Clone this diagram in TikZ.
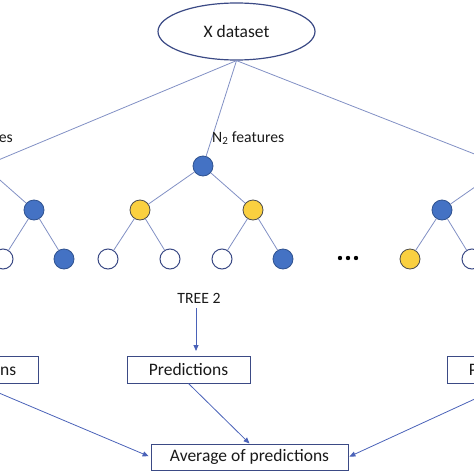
\documentclass[tikz,border=0pt]{standalone}
\usepackage{fontspec}
\setmainfont{Carlito}
\usetikzlibrary{shapes.geometric,arrows.meta}
\definecolor{nblue}{HTML}{4472C4}
\definecolor{nbluedk}{HTML}{2F528F}
\definecolor{nyellow}{HTML}{FAD040}
\definecolor{edgec}{HTML}{8190C4}
\definecolor{navy}{HTML}{3B4A85}
\definecolor{arrowc}{HTML}{4A62B8}
\definecolor{txt}{HTML}{1A1A1A}
\begin{document}
\begin{tikzpicture}[x=1pt,y=-1pt,
  bn/.style={circle,minimum size=20pt,inner sep=0,fill=nblue,draw=nbluedk,line width=0.8pt},
  yn/.style={circle,minimum size=20pt,inner sep=0,fill=nyellow,draw=black!70,line width=0.8pt},
  wn/.style={circle,minimum size=20pt,inner sep=0,fill=white,draw=navy,line width=1pt},
  edge/.style={draw=edgec,line width=0.8pt},
  arr/.style={draw=arrowc,line width=0.8pt,-{Triangle[length=6pt,width=5pt]}},
  box/.style={draw=navy,line width=1pt,minimum width=123pt,minimum height=27pt,inner sep=0,text=txt,font=\fontsize{17.5}{20}\selectfont},
  lbl/.style={font=\fontsize{15.7}{18}\selectfont,inner sep=0,text=txt}]
\useasboundingbox (0,0) rectangle (474,474);
\clip (0,0) rectangle (474,474);
% dataset
\node[ellipse,draw=navy,line width=1.2pt,minimum width=157pt,minimum height=57pt,inner sep=0,text=txt,font=\fontsize{17.5}{20}\selectfont] (X) at (236.5,31.5) {X dataset};
% tree 1 (mostly outside)
\node[bn] (r1) at (-16,166) {};
\node[bn] (b1) at (34,210) {};
\node[wn] (l1c) at (3,259) {};
\node[bn] (l1d) at (64,259) {};
% tree 2
\node[bn] (r2) at (203,166) {};
\node[yn] (a2) at (140,210) {};
\node[yn] (b2) at (253,210) {};
\node[wn] (l2a) at (108,259) {};
\node[wn] (l2b) at (170,259) {};
\node[wn] (l2c) at (222,259) {};
\node[bn] (l2d) at (283,259) {};
% tree 3 (mostly outside)
\node[bn] (r3) at (505,166) {};
\node[bn] (a3) at (442,210) {};
\node[yn] (l3a) at (410,259) {};
\node[wn] (l3b) at (472,259) {};
% edges
\draw[edge] (X.south) -- (r1);
\draw[edge] (X.south) -- (r2);
\draw[edge] (X.south) -- (r3);
\draw[edge] (r1) -- (b1);
\draw[edge] (b1) -- (l1c);
\draw[edge] (b1) -- (l1d);
\draw[edge] (r2) -- (a2);
\draw[edge] (r2) -- (b2);
\draw[edge] (a2) -- (l2a);
\draw[edge] (a2) -- (l2b);
\draw[edge] (b2) -- (l2c);
\draw[edge] (b2) -- (l2d);
\draw[edge] (r3) -- (a3);
\draw[edge] (a3) -- (l3a);
\draw[edge] (a3) -- (l3b);
% labels
\node[lbl,anchor=east] (n1) at (13,138) {N\textsubscript{1} features};
\node[lbl,anchor=west] (n2) at (212,138) {N\textsubscript{2} features};
% dots
\fill[black] (340,258) circle (2.2pt) (348,258) circle (2.2pt) (356,258) circle (2.2pt);
% tree 2 label and arrow
\node[lbl] (t2) at (199,298) {TREE 2};
\coordinate (t2end) at (196,351);
\draw[arr] (t2end |- 0,308) -- (t2end);
% predictions
\node[box] (p1) at (-23.5,369.5) {Predictions};
\node[box] (p2) at (188.5,369.5) {Predictions};
\node[box] (p3) at (508.5,369.5) {Predictions};
\node[box,minimum width=197pt,minimum height=26pt] (avg) at (249.5,457) {Average of predictions};
\draw[arr,shorten >=2pt] (p1.south) -- (avg.west);
\draw[arr] (p2.south) -- (avg.north);
\draw[arr,shorten >=1pt] (p3.south) -- (avg.east);
\end{tikzpicture}
\end{document}
